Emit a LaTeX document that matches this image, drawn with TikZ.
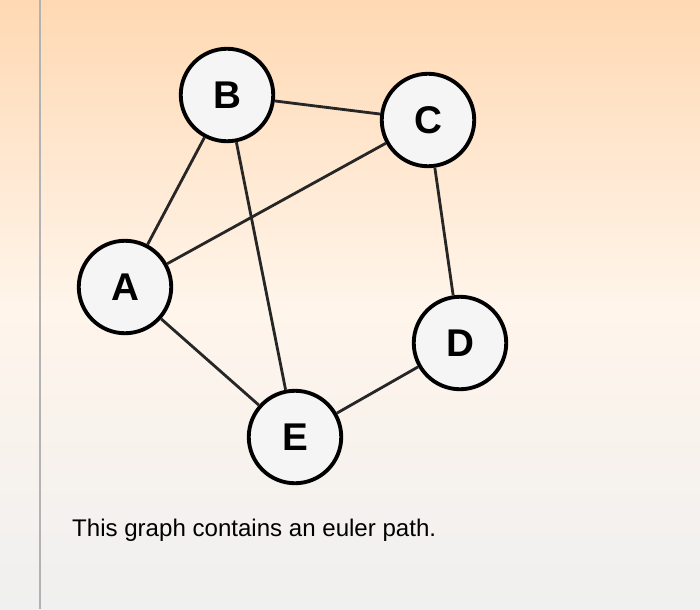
\documentclass[tikz,border=0pt]{standalone}
\usepackage{fontspec}
\setmainfont{Liberation Sans}
\tikzset{vtx/.style={circle,draw=black,line width=2.2pt,fill=white!92!gray,minimum size=1.85cm,inner sep=0pt,font=\fontsize{22}{24}\selectfont\bfseries},
edge/.style={line width=1.6pt,draw=black!85}}
\begin{document}
\begin{tikzpicture}[x=0.02cm,y=-0.02cm]
\useasboundingbox (0,0) rectangle (700,609);
\shade[top color=orange!30!white, bottom color=gray!12, middle color=orange!8!white] (0,0) rectangle (700,609);
\draw[gray!60,line width=1pt] (40,0) -- (40,609);
\node[vtx] (B) at (227,95) {B};
\node[vtx] (C) at (428,120) {C};
\node[vtx] (A) at (125,287) {A};
\node[vtx] (D) at (460,343) {D};
\node[vtx] (E) at (295,437) {E};
\draw[edge] (A) -- (B);
\draw[edge] (A) -- (C);
\draw[edge] (A) -- (E);
\draw[edge] (B) -- (C);
\draw[edge] (B) -- (E);
\draw[edge] (C) -- (D);
\draw[edge] (D) -- (E);
\node[anchor=west,font=\fontsize{13.7}{16}\selectfont] (t) at (66,530) {This graph contains an euler path.};
\end{tikzpicture}
\end{document}
